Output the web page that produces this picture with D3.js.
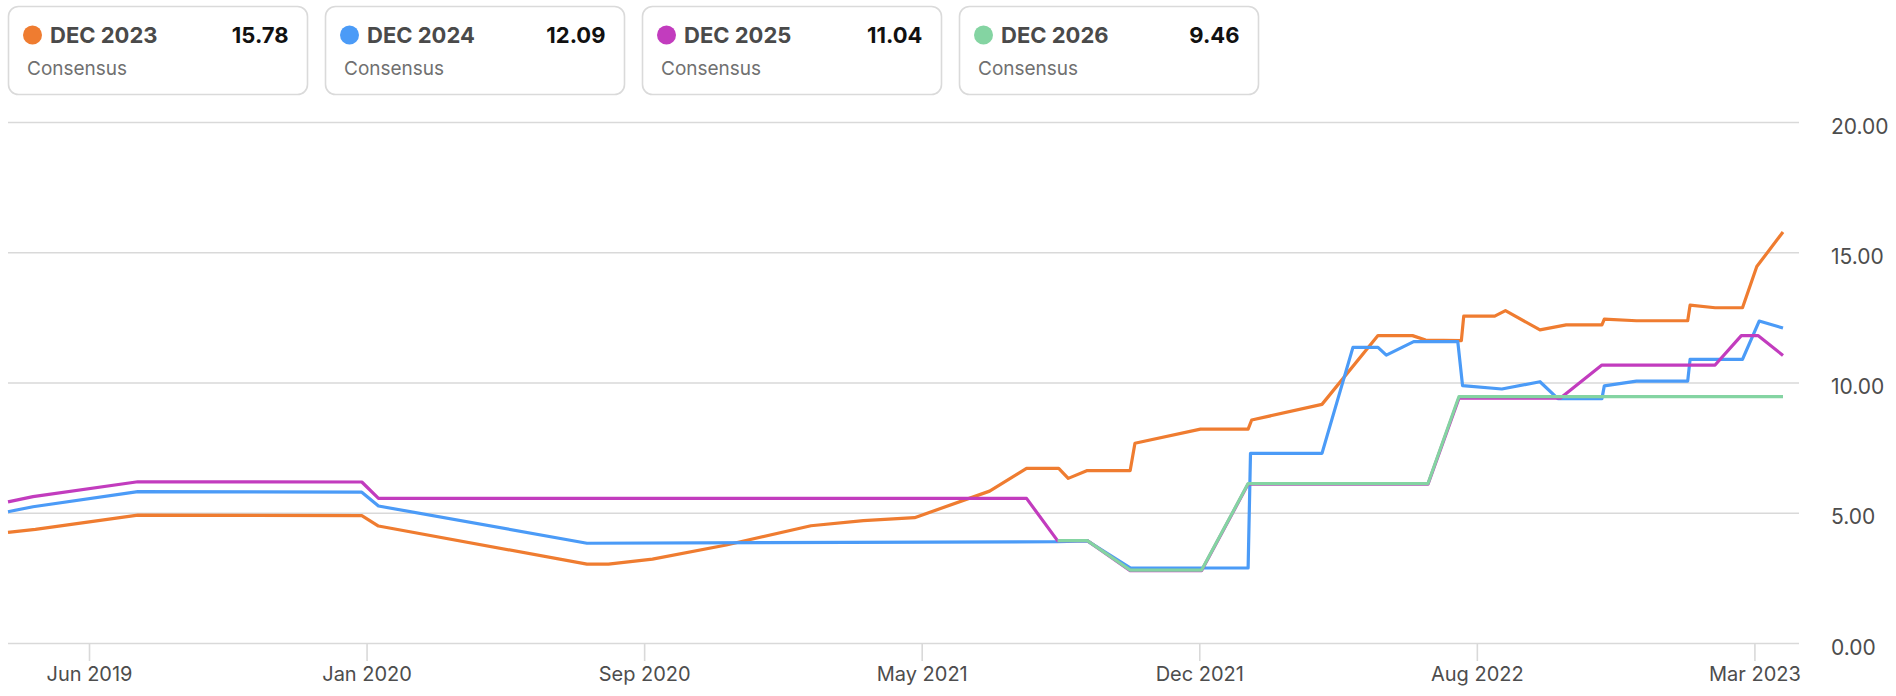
<!DOCTYPE html>
<html>
<head>
<meta charset="utf-8">
<script src="https://cdn.jsdelivr.net/npm/d3@7"></script>
<style>
  body { margin: 0; background: #fff; font-family: Inter, "Noto Sans", sans-serif; }
  #chart { width: 1896px; height: 696px; }
</style>
</head>
<body>
<div id="chart"></div>
<script>
var seriesNames = ["DEC 2023", "DEC 2024", "DEC 2025", "DEC 2026"]
var seriesColors = ["#ef7c30", "#4b9bf7", "#c23cbe", "#84d4a2"]
var latestValues = ["15.78", "12.09", "11.04", "9.46"]

var dec2023 = [
  ["2019-03-26", 4.25], ["2019-04-18", 4.36], ["2019-07-13", 4.91], ["2020-01-17", 4.89],
  ["2020-01-31", 4.49], ["2020-07-24", 3.03], ["2020-08-11", 3.03], ["2020-09-17", 3.22],
  ["2020-11-18", 3.76], ["2021-01-28", 4.5], ["2021-03-13", 4.7], ["2021-04-25", 4.81],
  ["2021-06-27", 5.83], ["2021-07-28", 6.7], ["2021-08-24", 6.7], ["2021-09-01", 6.32],
  ["2021-09-17", 6.62], ["2021-10-23", 6.62], ["2021-10-27", 7.67], ["2021-12-21", 8.21],
  ["2022-01-30", 8.21], ["2022-02-02", 8.56], ["2022-04-02", 9.16], ["2022-05-19", 11.8],
  ["2022-06-17", 11.8], ["2022-06-28", 11.63], ["2022-07-28", 11.61], ["2022-07-30", 12.55],
  ["2022-08-25", 12.55], ["2022-09-03", 12.76], ["2022-10-02", 12.02], ["2022-10-24", 12.21],
  ["2022-11-23", 12.21], ["2022-11-25", 12.43], ["2022-12-22", 12.37], ["2023-02-03", 12.37],
  ["2023-02-05", 12.97], ["2023-02-26", 12.87], ["2023-03-21", 12.87], ["2023-04-02", 14.45],
  ["2023-04-24", 15.78]
]

var dec2024 = [
  ["2019-03-26", 5.04], ["2019-04-16", 5.23], ["2019-07-13", 5.81], ["2020-01-17", 5.79],
  ["2020-01-31", 5.26], ["2020-07-24", 3.83], ["2021-08-23", 3.89], ["2021-09-17", 3.92],
  ["2021-10-23", 2.88], ["2022-01-30", 2.88], ["2022-02-01", 7.28], ["2022-04-02", 7.28],
  ["2022-04-28", 11.35], ["2022-05-19", 11.35], ["2022-05-26", 11.05], ["2022-06-18", 11.57],
  ["2022-07-25", 11.57], ["2022-07-29", 9.88], ["2022-08-31", 9.75], ["2022-10-02", 10.03],
  ["2022-10-17", 9.38], ["2022-11-23", 9.38], ["2022-11-25", 9.87], ["2022-12-22", 10.05],
  ["2023-02-03", 10.05], ["2023-02-05", 10.89], ["2023-03-21", 10.89], ["2023-04-04", 12.36],
  ["2023-04-24", 12.09]
]

var dec2025 = [
  ["2019-03-26", 5.42], ["2019-04-16", 5.62], ["2019-07-13", 6.19], ["2020-01-17", 6.18],
  ["2020-01-31", 5.55], ["2021-07-28", 5.55], ["2021-08-23", 3.93], ["2021-09-17", 3.93],
  ["2021-10-23", 2.78], ["2021-12-22", 2.78], ["2022-01-30", 6.1], ["2022-06-30", 6.1],
  ["2022-07-26", 9.4], ["2022-10-19", 9.4], ["2022-11-23", 10.67], ["2023-02-26", 10.67],
  ["2023-03-20", 11.8], ["2023-04-03", 11.8], ["2023-04-24", 11.04]
]

var dec2026 = [
  ["2021-08-23", 3.93], ["2021-09-17", 3.93], ["2021-10-23", 2.8], ["2021-12-22", 2.8],
  ["2022-01-30", 6.12], ["2022-06-30", 6.12], ["2022-07-26", 9.46], ["2023-04-24", 9.46]
]

var yTicks = [0, 5, 10, 15, 20]
var xTicks = ["2019-06-02", "2020-01-21", "2020-09-10", "2021-05-01", "2021-12-20", "2022-08-10", "2023-03-31"]

document.addEventListener("DOMContentLoaded", function() {
  draw()
});

function draw(){
  var parse = d3.timeParse("%Y-%m-%d")
  var all = [dec2023, dec2024, dec2025, dec2026]

  var svg = d3.select("#chart").append("svg")
    .attr("width", 1896)
    .attr("height", 696)

  // summary cards on top
  var cards = svg.selectAll("g.card")
    .data(seriesNames)
    .enter()
    .append("g")
    .attr("class", "card")
    .attr("transform", (d, i) => "translate(" + (8.5 + i * 317) + ",6.5)")

  cards.append("rect")
    .attr("width", 299)
    .attr("height", 88)
    .attr("rx", 10)
    .attr("fill", "#fff")
    .attr("stroke", "#dadada")
    .attr("stroke-width", 1.6)

  cards.append("circle")
    .attr("cx", 24)
    .attr("cy", 28.5)
    .attr("r", 9.5)
    .attr("fill", (d, i) => seriesColors[i])

  cards.append("text")
    .attr("x", 41.5)
    .attr("y", 36)
    .attr("font-size", 22)
    .attr("font-weight", 700)
    .attr("fill", "#4a4a4a")
    .text(d => d)

  cards.append("text")
    .attr("x", 280)
    .attr("y", 36)
    .attr("text-anchor", "end")
    .attr("font-size", 22)
    .attr("font-weight", 700)
    .attr("fill", "#111")
    .text((d, i) => latestValues[i])

  cards.append("text")
    .attr("x", 18.5)
    .attr("y", 68.5)
    .attr("font-size", 19)
    .attr("fill", "#707070")
    .text("Consensus")

  var x = d3.scaleTime()
    .domain([parse("2019-03-26"), parse("2023-04-24")])
    .range([8, 1783])

  var y = d3.scaleLinear()
    .domain([0, 20])
    .range([643, 122])

  // grid + right labels
  var yAxis = d3.axisRight(y)
    .tickValues(yTicks)
    .tickSize(1791)
    .tickFormat(d3.format(".2f"))

  var gy = svg.append("g")
    .attr("transform", "translate(8,0)")
    .call(yAxis)
  gy.select(".domain").remove()
  gy.selectAll(".tick line")
    .attr("stroke", "#d9d9d9")
    .attr("stroke-width", 1.6)
  gy.selectAll(".tick text")
    .attr("x", 1823)
    .attr("dy", 11)
    .attr("font-family", "Inter, sans-serif")
    .attr("font-size", 21)
    .attr("fill", "#4d4d4d")

  var xAxis = d3.axisBottom(x)
    .tickValues(xTicks.map(parse))
    .tickSize(18)
    .tickPadding(4)
    .tickFormat(d3.timeFormat("%b %Y"))

  var gx = svg.append("g")
    .attr("transform", "translate(0,643)")
    .call(xAxis)
  gx.select(".domain").remove()
  gx.selectAll(".tick line")
    .attr("stroke", "#d9d9d9")
    .attr("stroke-width", 1.6)
  gx.selectAll(".tick text")
    .attr("dy", "0.8em")
    .attr("font-family", "Inter, sans-serif")
    .attr("font-size", 20)
    .attr("fill", "#4d4d4d")

  var line = d3.line()
    .x(d => x(parse(d[0])))
    .y(d => y(d[1]))

  svg.selectAll("path.series")
    .data(all)
    .enter()
    .append("path")
    .attr("class", "series")
    .attr("d", line)
    .attr("fill", "none")
    .attr("stroke", (d, i) => seriesColors[i])
    .attr("stroke-width", 3.2)
    .attr("stroke-linejoin", "round")
}
</script>
</body>
</html>
